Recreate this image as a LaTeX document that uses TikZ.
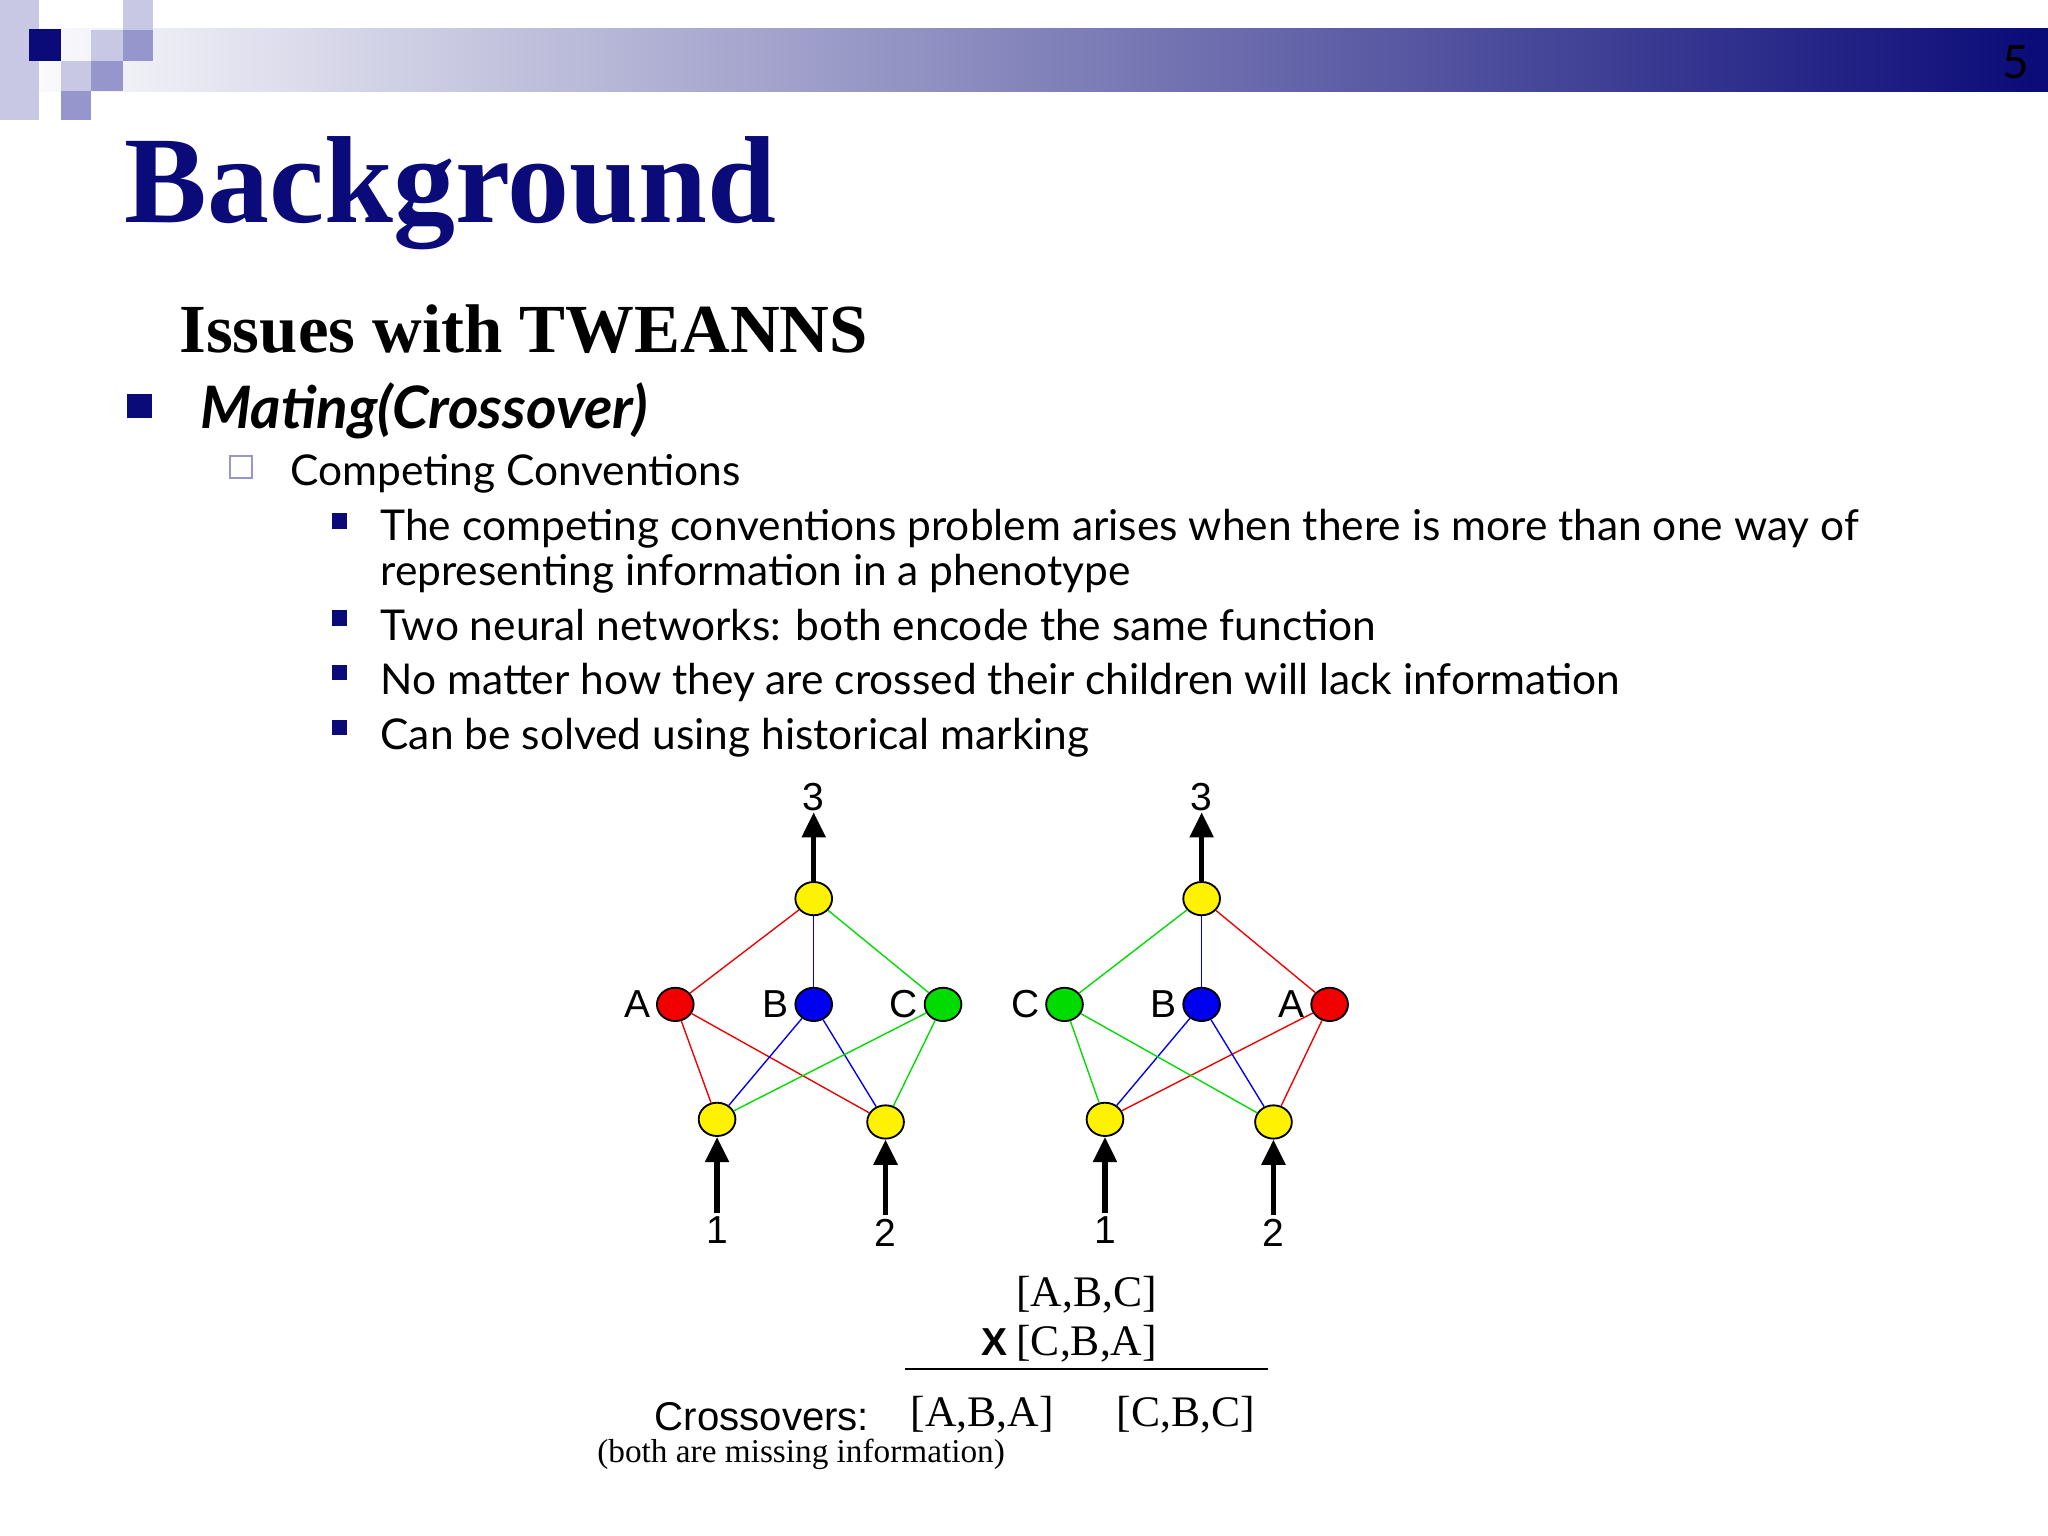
\documentclass[tikz,border=0pt]{standalone}
\usepackage{fontspec}
\setmainfont{Liberation Serif}
\newfontfamily\gill{Lato}
\newfontfamily\arial{Liberation Sans}
\usetikzlibrary{arrows.meta,shapes.geometric}
\definecolor{navy}{RGB}{10,10,120}
\definecolor{lblue}{RGB}{200,200,228}
\definecolor{mblue}{RGB}{150,150,204}
\definecolor{nred}{RGB}{240,0,0}
\definecolor{ngreen}{RGB}{0,220,0}
\definecolor{nblue}{RGB}{0,0,240}
\tikzset{
  neuron/.style={ellipse,draw,thick,minimum width=16pt,minimum height=14.5pt,inner sep=0pt},
  io/.style={neuron,fill=yellow},
  lab/.style={font=\arial\fontsize{17}{17}\selectfont},
  sig/.style={-{Triangle[length=11pt,width=10pt]},line width=2.4pt},
  bul/.style={font=\gill\fontsize{18.5}{22}\selectfont,anchor=base west,inner sep=0},
}
\newcommand{\fs}[1]{\fontsize{#1}{#1}\selectfont}
\begin{document}
\begin{tikzpicture}[x=0.02cm,y=-0.02cm]
\useasboundingbox (0,0) rectangle (1568,1176);
% header bar
\shade[left color=white,right color=navy] (0,22) rectangle (1568,70);
\fill[lblue] (0,0) rectangle (30,92);
\fill[navy] (22,22) rectangle (47,47);
\fill[lblue] (94,0) rectangle (117,23);
\fill[lblue] (70,23) rectangle (94,47);
\fill[mblue] (94,23) rectangle (117,47);
\fill[lblue] (47,47) rectangle (70,70);
\fill[mblue] (70,47) rectangle (94,70);
\fill[mblue] (47,70) rectangle (70,92);
\node[anchor=base,font=\gill\fs{20}] (pg) at (1543,60) {5};
% titles
\node[anchor=base west,inner sep=0,text=navy,font=\bfseries\fs{54}] (title) at (95,170) {Background};
\node[anchor=base west,inner sep=0,font=\bfseries\fs{30}] (sub) at (137,270) {Issues with TWEANNS};
\fill[navy] (97,302) rectangle (116,320);
\node[anchor=base west,inner sep=0,font=\gill\bfseries\itshape\fs{25.5}] (mating) at (153,328) {Mating(Crossover)};
\draw[mblue,thick] (176,349) rectangle (193,366);
\node[bul] (cc) at (222,372) {Competing Conventions};
\foreach \y in {393,467,509,551} \fill[navy] (254,\y) rectangle (266,\y+12);
\node[bul] (b1) at (291,414) {The competing conventions problem arises when there is more than one way of};
\node[bul] (b1b) at (291,448) {representing information in a phenotype};
\node[bul] (b2) at (291,490) {Two neural networks: both encode the same function};
\node[bul] (b3) at (291,532) {No matter how they are crossed their children will lack information};
\node[bul] (b4) at (291,574) {Can be solved using historical marking};
% left network
\node[io] (lt) at (623,688) {};
\node[neuron,fill=nred] (la) at (517,769) {};
\node[neuron,fill=nblue] (lb) at (623,769) {};
\node[neuron,fill=ngreen] (lc) at (722,769) {};
\node[io] (l1) at (549,857) {};
\node[io] (l2) at (678,859) {};
% right network
\node[io] (rt) at (920,688) {};
\node[neuron,fill=ngreen] (rc) at (815,769) {};
\node[neuron,fill=nblue] (rb) at (920,769) {};
\node[neuron,fill=nred] (ra) at (1018,769) {};
\node[io] (r1) at (846,857) {};
\node[io] (r2) at (975,859) {};
\foreach \n/\t in {la/A,lb/B,lc/C,rc/C,rb/B,ra/A}
  \node[lab,left=-1pt] at (\n.west) {\t};
\foreach \s/\t/\c in {l/a/nred,l/b/nblue,l/c/ngreen,r/a/nred,r/b/nblue,r/c/ngreen}{
  \draw[\c,semithick] (\s t) -- (\s\t);
  \draw[\c,semithick] (\s\t) -- (\s1);
  \draw[\c,semithick] (\s\t) -- (\s2);
}
% signals
\foreach \s in {l,r}{
  \coordinate (\s o) at ([yshift=30pt]\s t.north);
  \draw[sig] (\s t.north) -- (\s o);
  \node[lab,above=-3pt] at (\s o) {3};
  \foreach \i in {1,2}{
    \coordinate (\s i\i) at ([yshift=-33pt]\s\i.south);
    \draw[sig] (\s i\i) -- (\s\i.south);
    \node[lab,below=-2pt] at (\s i\i) {\i};
  }
}
% crossover text
\node[anchor=base,font=\fs{19}] (p1) at (832,1000) {[A,B,C]};
\node[anchor=base,font=\fs{19}] (p2) at (832,1038) {[C,B,A]};
\node[anchor=base east,inner sep=0,font=\arial\bfseries\fs{17}] (x) at (p2.base west) {X};
\coordinate (ul) at (693,1048);
\coordinate (ur) at (971,1048);
\draw[thick] (ul) -- (ur);
\node[anchor=base west,inner sep=0,font=\arial\fs{17.5}] (co) at (501,1095) {Crossovers:};
\node[anchor=base,font=\fs{19}] (c1) at (752,1092) {[A,B,A]};
\node[anchor=base,font=\fs{19}] (c2) at (908,1092) {[C,B,C]};
\node[anchor=base west,inner sep=0,font=\fs{14.5}] (miss) at (457,1120) {(both are missing information)};
\end{tikzpicture}
\end{document}
